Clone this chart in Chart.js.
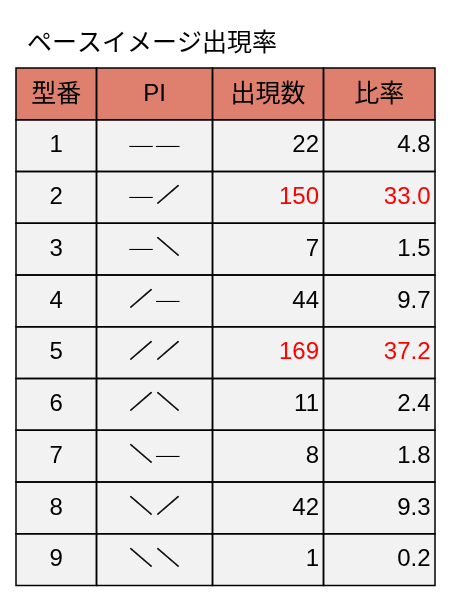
<!DOCTYPE html>
<html><head><meta charset="utf-8">
<script src="https://cdn.jsdelivr.net/npm/chart.js@4.4.1/dist/chart.umd.min.js"></script>
<style>html,body{margin:0;padding:0;background:#fff;}canvas{display:block;}</style>
</head><body>
<canvas id="c" width="450" height="603"></canvas>
<script>
// ---- data ----
const chartTitle = 'ペースイメージ出現率';
const headers = ['型番', 'PI', '出現数', '比率'];
const types = ['1', '2', '3', '4', '5', '6', '7', '8', '9'];
const patterns = ['――', '―／', '―＼', '／―', '／／', '／＼', '＼―', '＼／', '＼＼'];
const counts = [22, 150, 7, 44, 169, 11, 8, 42, 1];
const ratios = [4.8, 33.0, 1.5, 9.7, 37.2, 2.4, 1.8, 9.3, 0.2];
const highlighted = ['2', '5'];

// ---- layout / style ----
const colWidths = [80.5, 116, 111, 111.5];
const colAlign = ['center', 'center', 'right', 'right'];
const headerColor = '#df7f6e';
const cellColor = '#f2f2f2';
const CJK = '"Noto Sans CJK JP", sans-serif';
const LATIN = '"Liberation Sans", Arial, sans-serif';

const edges = [0];
colWidths.forEach((w, i) => edges.push(edges[i] + w));
const rowLabels = ['header', ...types];

function cellText(col, row) {
  if (row === 0) return headers[col];
  const k = row - 1;
  if (col === 0) return types[k];
  if (col === 1) return patterns[k];
  if (col === 2) return String(counts[k]);
  return ratios[k].toFixed(1);
}

// draw a glyph so that its ink fits a target box
function fitGlyph(ctx, ch, font, x0, x1, y0, y1, extraStroke) {
  ctx.save();
  ctx.font = font;
  ctx.textAlign = 'left';
  ctx.textBaseline = 'alphabetic';
  const m = ctx.measureText(ch);
  const w = m.actualBoundingBoxLeft + m.actualBoundingBoxRight;
  const h = m.actualBoundingBoxAscent + m.actualBoundingBoxDescent;
  const sx = (x1 - x0) / w, sy = (y1 - y0) / h;
  ctx.translate(x0 + m.actualBoundingBoxLeft * sx, y0 + m.actualBoundingBoxAscent * sy);
  ctx.scale(sx, sy);
  ctx.fillText(ch, 0, 0);
  if (extraStroke) {
    ctx.strokeStyle = ctx.fillStyle;
    ctx.lineWidth = extraStroke / Math.sqrt(sx * sy);
    ctx.strokeText(ch, 0, 0);
  }
  ctx.restore();
}

function drawPattern(ctx, txt, cx, cy) {
  Array.from(txt).forEach((ch, p) => {
    if (ch === '―') {
      const a = p === 0 ? cx - 26.2 : cx + 0.5;
      fitGlyph(ctx, ch, '26px ' + CJK, a, a + 25.4, cy - 1, cy + 1);
    } else {
      const a = p === 0 ? cx - 25 : cx + 2;
      fitGlyph(ctx, ch, 'bold 26px ' + CJK, a, a + 23, cy - 11.8, cy + 7.2, 0.45);
    }
  });
}

const datasets = colWidths.map((w, i) => ({
  label: headers[i],
  data: rowLabels.map(() => [edges[i], edges[i + 1]]),
  backgroundColor: rowLabels.map((r, j) => j === 0 ? headerColor : cellColor),
  borderWidth: 0,
  barPercentage: 1,
  categoryPercentage: 1,
  grouped: false
}));

const tablePlugin = {
  id: 'tablePlugin',
  afterDatasetsDraw(chart) {
    const ctx = chart.ctx;
    const area = chart.chartArea;
    ctx.save();
    // title
    ctx.fillStyle = '#000';
    ctx.font = '25px ' + CJK;
    ctx.textAlign = 'left';
    ctx.textBaseline = 'alphabetic';
    ctx.fillText(chartTitle, area.left + 11, area.top - 17.5);

    // grid
    ctx.strokeStyle = '#000';
    ctx.lineWidth = 1.5;
    chart.data.datasets.forEach((ds, i) => {
      const meta = chart.getDatasetMeta(i);
      meta.data.forEach((el) => {
        const x0 = el.base, x1 = el.x, h = el.height;
        ctx.strokeRect(x0, el.y - h / 2, x1 - x0, h);
      });
    });

    // text
    chart.data.datasets.forEach((ds, i) => {
      const meta = chart.getDatasetMeta(i);
      meta.data.forEach((el, j) => {
        const txt = cellText(i, j);
        const isCJK = /[^\x00-\x7F]/.test(txt);
        const align = j === 0 ? 'center' : colAlign[i];
        const cx = (el.base + el.x) / 2;
        let color = '#000';
        if (j > 0 && i >= 2 && highlighted.includes(types[j - 1])) color = '#ff0000';
        ctx.fillStyle = color;
        if (i === 1 && j > 0) {
          drawPattern(ctx, txt, cx, el.y);
          return;
        }
        const x = align === 'center' ? cx : el.x - 4.5;
        const y = el.y + (isCJK ? 8 : 6.8);
        ctx.font = (isCJK ? '25px ' + CJK : '24px ' + LATIN);
        ctx.textAlign = align;
        ctx.textBaseline = 'alphabetic';
        ctx.fillText(txt, x, y);
      });
    });
    ctx.restore();
  }
};

new Chart(document.getElementById('c'), {
  type: 'bar',
  data: { labels: rowLabels, datasets },
  options: {
    indexAxis: 'y',
    responsive: false,
    animation: false,
    events: [],
    layout: { padding: { left: 16, right: 15, top: 68, bottom: 17.5 } },
    scales: {
      x: { type: 'linear', min: 0, max: edges[edges.length - 1], display: false },
      y: { type: 'category', display: false, offset: true }
    },
    plugins: { legend: { display: false }, title: { display: false }, tooltip: { enabled: false } }
  },
  plugins: [tablePlugin]
});
</script>
</body></html>
